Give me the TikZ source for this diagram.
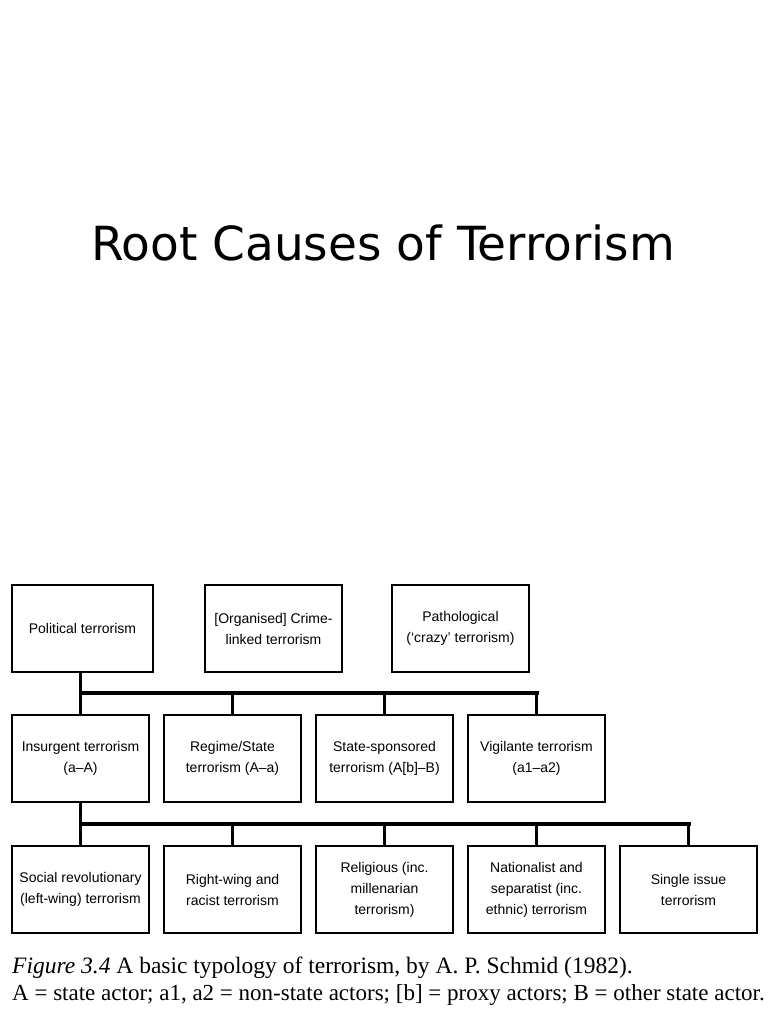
\documentclass[tikz,border=0pt]{standalone}
\usepackage{fontspec}
\setmainfont{Liberation Sans}
\newfontfamily\titlefont{DejaVu Sans}
\newfontfamily\capfont{Liberation Serif}
\begin{document}
\begin{tikzpicture}[x=1pt,y=-1pt,
  bx/.style={draw,line width=1.3pt,minimum width=137pt,minimum height=87pt,align=center,font=\fontsize{14}{21}\selectfont,inner sep=0pt},
  bar/.style={line width=3.2pt},
  lk/.style={line width=2.2pt}]
\useasboundingbox (0,0) rectangle (768,1024);
\node[font=\titlefont\fontsize{47}{54}\selectfont] (title) at (383,243) {Root Causes of Terrorism};
\node[bx,minimum width=141pt] (pol) at (82.5,628.5) {Political terrorism};
\node[bx] (crime) at (273.5,628.5) {[Organised] Crime-\\linked terrorism};
\node[bx] (path) at (460.5,628.5) {Pathological\\(‘crazy’ terrorism)};
\node[bx] (ins) at (80.5,758.5) {Insurgent terrorism\\(a–A)};
\node[bx] (reg) at (232.5,758.5) {Regime/State\\terrorism (A–a)};
\node[bx] (ss) at (384.5,758.5) {State-sponsored\\terrorism (A[b]–B)};
\node[bx] (vig) at (536.5,758.5) {Vigilante terrorism\\(a1–a2)};
\node[bx] (soc) at (80.5,889.5) {Social revolutionary\\(left-wing) terrorism};
\node[bx] (rw) at (232.5,889.5) {Right-wing and\\racist terrorism};
\node[bx] (rel) at (384.5,889.5) {Religious (inc.\\millenarian\\terrorism)};
\node[bx] (nat) at (536.5,889.5) {Nationalist and\\separatist (inc.\\ethnic) terrorism};
\node[bx] (sing) at (688.5,889.5) {Single issue\\terrorism};
\coordinate (b1l) at (80.5,693); \coordinate (b1r) at (537,693);
\coordinate (b2l) at (80.5,824); \coordinate (b2r) at (689,824);
\draw[bar] ([xshift=-1.6pt]b1l) -- ([xshift=1.6pt]b1r);
\draw[bar] ([xshift=-1.6pt]b2l) -- ([xshift=1.6pt]b2r);
\draw[lk] (pol.south -| b1l) -- (b1l);
\foreach \n in {ins,reg,ss,vig} \draw[lk] (\n.north) -- (\n.north |- b1l);
\draw[lk] (ins.south) -- (ins.south |- b2l);
\foreach \n in {soc,rw,rel,nat,sing} \draw[lk] (\n.north) -- (\n.north |- b2l);
\node[anchor=west,font=\capfont\fontsize{23.5}{27}\selectfont,inner sep=0pt] (cap1) at (12,968) {\textit{Figure 3.4} A basic typology of terrorism, by A. P. Schmid (1982).};
\node[anchor=west,font=\capfont\fontsize{23}{27}\selectfont,inner sep=0pt] (cap2) at (12,995) {A = state actor; a1, a2 = non-state actors; [b] = proxy actors; B = other state actor.};
\end{tikzpicture}
\end{document}
